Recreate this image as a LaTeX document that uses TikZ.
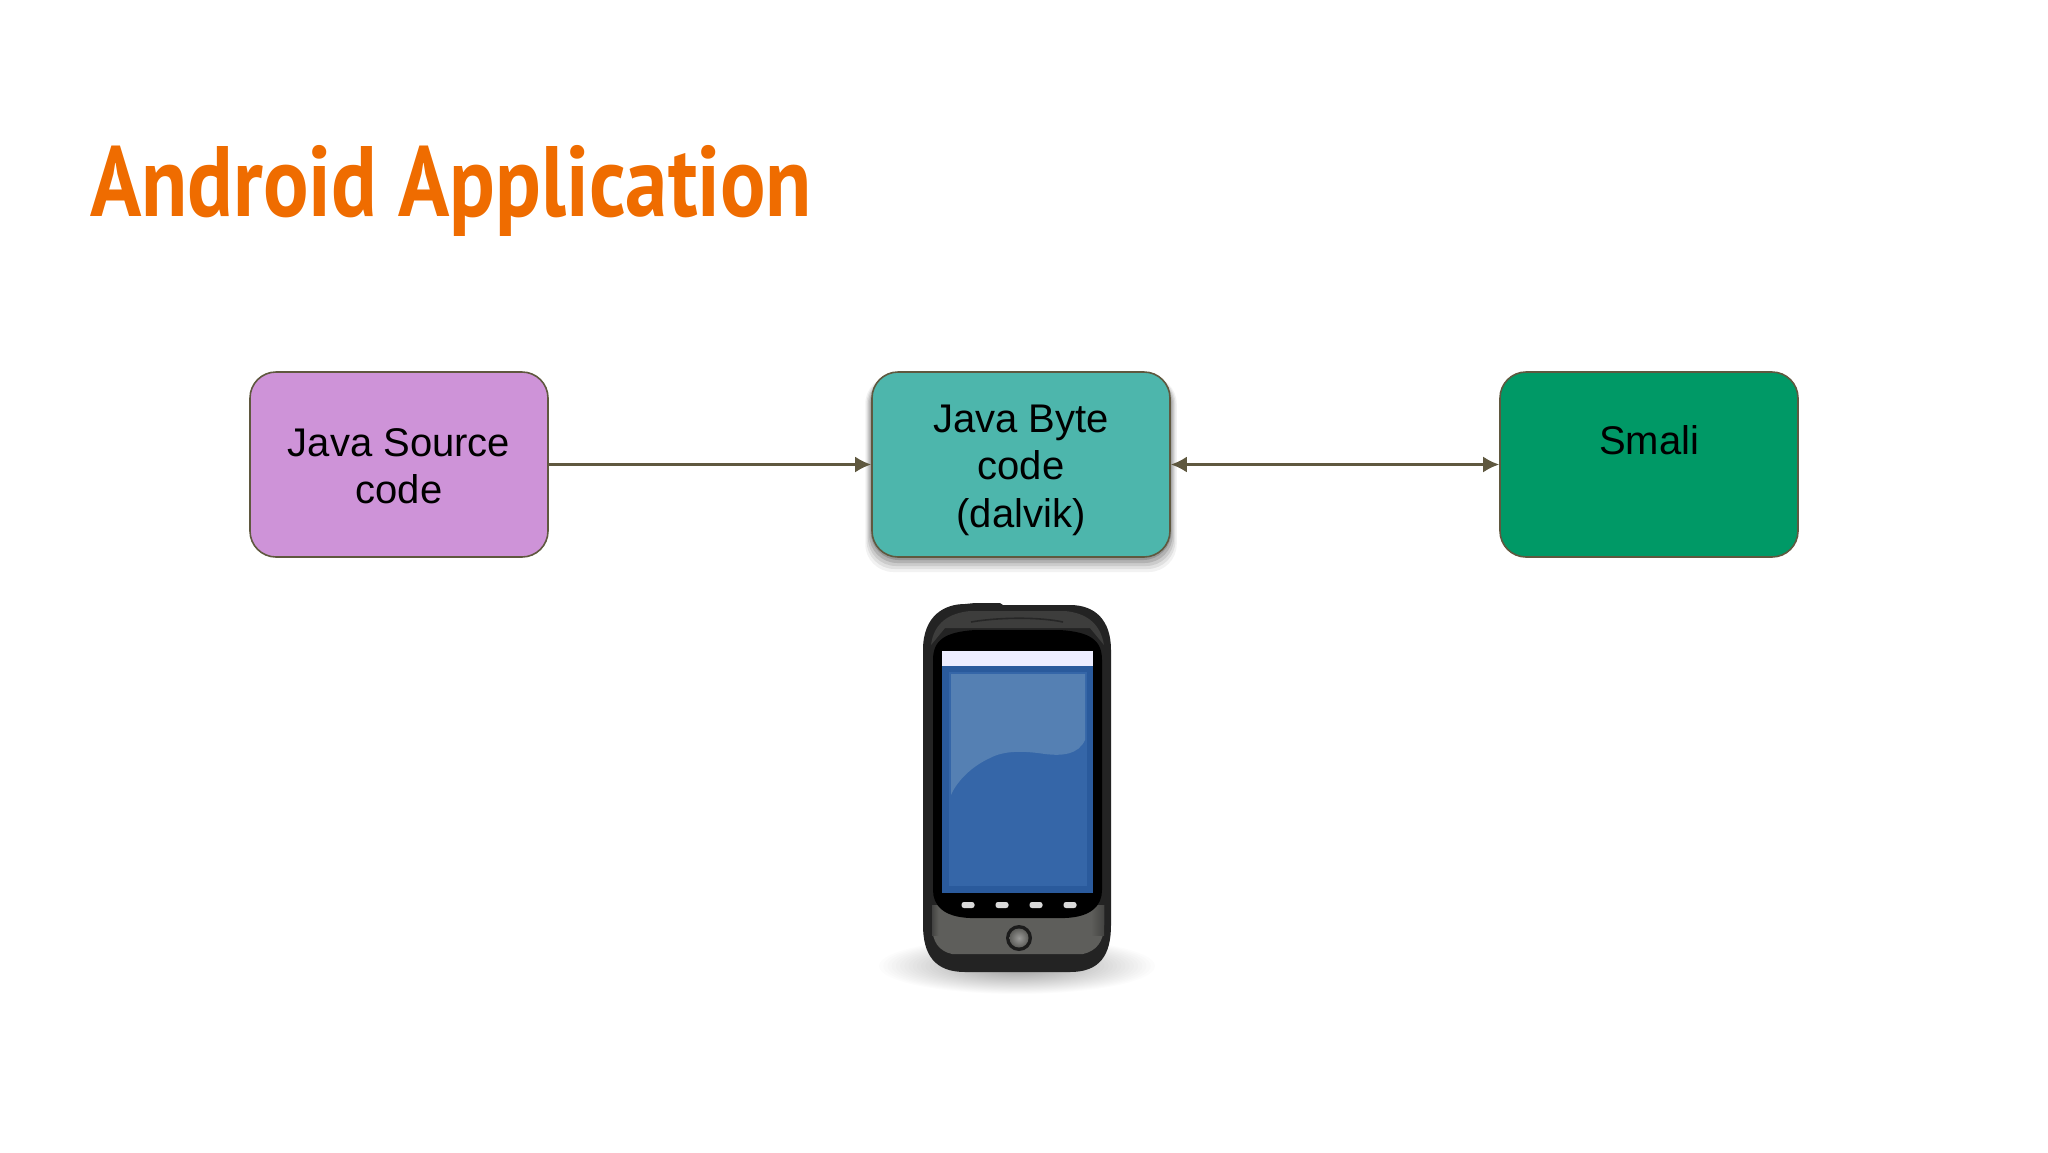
\documentclass[tikz,border=0pt]{standalone}
\usepackage{fontspec}
\setmainfont{Liberation Sans}
\newfontfamily\titlefont{PT Sans}[FakeStretch=0.848]
\usetikzlibrary{arrows.meta}
\definecolor{orangeT}{HTML}{EF6C00}
\definecolor{edgeC}{HTML}{5F583F}
\definecolor{purpleB}{HTML}{CE93D8}
\definecolor{tealB}{HTML}{4DB6AC}
\definecolor{greenB}{HTML}{009966}
\definecolor{bezelB}{HTML}{000000}
\definecolor{bodyD}{HTML}{232323}
\definecolor{bodyM}{HTML}{5E5E5B}
\definecolor{bodyL}{HTML}{9A9A98}
\definecolor{blueO}{HTML}{2A5A9C}
\definecolor{blueI}{HTML}{3566A8}
\definecolor{blueH}{HTML}{5580B3}
\tikzset{
  x=1pt,y=-1pt,
  flowbox/.style={draw=edgeC,line width=1.6pt,rounded corners=26pt,minimum width=298pt,minimum height=185pt,
    inner sep=0pt,align=center,text=black,font=\fontsize{40}{47.5}\selectfont},
  flowarrow/.style={draw=edgeC,line width=2.6pt,-{Latex[length=16pt,width=16pt]}},
  twoarrow/.style={draw=edgeC,line width=2.6pt,{Latex[length=16pt,width=16pt]}-{Latex[length=16pt,width=16pt]}},
}
\begin{document}
\begin{tikzpicture}
\useasboundingbox[fill=white] (0,0) rectangle (2048,1152);
\node[anchor=base west,inner sep=0pt,text=orangeT,font=\titlefont\bfseries\fontsize{100}{100}\selectfont] (title) at (90,216) {Android Application};
% box shadow
\foreach \g/\o in {15/0.05,12/0.07,9/0.09,6/0.12,3/0.15}{
  \fill[black,opacity=\o,rounded corners=28pt] (872-\g*0.45,376) rectangle (1170+\g*0.45,557+\g);
}
\node[flowbox,fill=purpleB] (java) at (399,464.5) {\rule{0pt}{31.6pt}Java Source\\code};
\node[flowbox,fill=tealB] (byte) at (1021,464.5) {\rule{0pt}{38.6pt}Java Byte\\code\\(dalvik)};
\node[flowbox,fill=greenB] (smali) at (1649,464.5) {\rule{0pt}{41.6pt}Smali\\\strut};
\draw[flowarrow] (java.east) -- (byte.west);
\draw[twoarrow] (byte.east) -- (smali.west);
% phone shadow
\foreach \k in {0,...,29}{
  \fill[black,opacity=0.011] (1017,966) ellipse ({138-4.2*\k} and {28-0.8*\k});
}
% phone body
\fill[bodyD] (923,650) .. controls (923,615) and (945,604) .. (965,604) -- (975,603) -- (1000,603) -- (1003,605)
  -- (1070,605) .. controls (1095,605) and (1111,620) .. (1111,650) -- (1111,925)
  .. controls (1111,955) and (1100,972) .. (1070,972) -- (965,972) .. controls (935,972) and (923,955) .. (923,925) -- cycle;
% top highlight
\fill[bodyM!45!bodyD] (931,645) .. controls (934,622) and (950,613) .. (970,611) -- (1065,611) .. controls (1085,613) and (1100,622) .. (1104,645) -- (1090,628) -- (945,628) -- cycle;
\draw[black!85,line width=1.6pt] (971,622) .. controls (1000,617) and (1040,617) .. (1063,622);
% lower grey
\fill[bodyM] (932,905) -- (1104,905) -- (1104,925) .. controls (1104,942) and (1096,951) .. (1083,954) -- (952,954) .. controls (939,951) and (932,942) .. (932,925) -- cycle;
\fill[left color=bodyM!55!bodyD,right color=bodyM,middle color=bodyM] (932,905) rectangle (945,935);
\fill[left color=bodyM,right color=bodyM!55!bodyD] (1091,905) rectangle (1104,935);
% bezel
\fill[bezelB] (933,660) .. controls (933,640) and (945,632) .. (975,630) -- (1060,630) .. controls (1090,632) and (1102,640) .. (1102,660)
  -- (1102,890) .. controls (1102,905) and (1092,917) .. (1065,918) -- (970,918) .. controls (943,917) and (933,905) .. (933,890) -- cycle;
% screen
\fill[blueO] (942,666) rectangle (1093,893);
\fill[white!93!blue] (942,651) rectangle (1093,666);
\fill[blueI] (949,672) rectangle (1087,886);
\fill[blueH] (951,674) -- (1085,674) -- (1085,740) .. controls (1078,755) and (1062,756) .. (1045,754)
  .. controls (1025,751) and (1005,750) .. (990,758) .. controls (968,768) and (955,785) .. (951,795) -- cycle;
% soft keys
\foreach \xk in {968,1002,1036,1070}{
  \fill[white!85!black,rounded corners=2.5pt] (\xk-6.5,902) rectangle (\xk+6.5,908);
}
% home button
\fill[bodyD!80!black] (1019,938) circle (13);
\shade[inner color=bodyL,outer color=bodyM] (1019,938) circle (9.5);
\end{tikzpicture}
\end{document}
